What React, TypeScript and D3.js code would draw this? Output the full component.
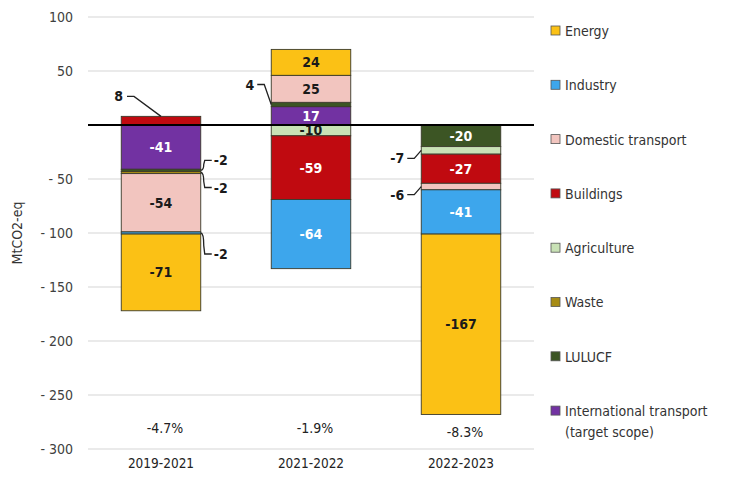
import React from "react"
import * as d3 from "d3"

// change in emissions by sector, MtCO2-eq
const categories = ["2019-2021", "2021-2022", "2022-2023"]
const totals = ["-4.7%", "-1.9%", "-8.3%"]

// stacking order (first = next to zero)
const sectors = ["International", "LULUCF", "Waste", "Agriculture", "Buildings", "Domestic", "Industry", "Energy"]
const international = [-41, 17, 0]
const lulucf = [-2, 4, -20]
const waste = [-2, 0, 0]
const agriculture = [0, -10, -7]
const buildings = [8, -59, -27]
const domestic = [-54, 25, -6]
const industry = [-2, -64, -41]
const energy = [-71, 24, -167]

const yTicks = [100, 50, 0, -50, -100, -150, -200, -250, -300]

const legendNames = ["Energy", "Industry", "Domestic transport", "Buildings", "Agriculture", "Waste", "LULUCF", "International transport|(target scope)"]
const legendKeys = ["Energy", "Industry", "Domestic", "Buildings", "Agriculture", "Waste", "LULUCF", "International"]

const colors: Record<string, string> = {
    Energy: "#FBC115",
    Industry: "#3DA6EC",
    Domestic: "#F2C5BF",
    Buildings: "#C00A10",
    Agriculture: "#C9E2B6",
    Waste: "#A68B14",
    LULUCF: "#3C5524",
    International: "#7232A2",
}
const whiteText = ["Industry", "Buildings", "LULUCF", "International"]

// small segments labelled outside the bar: [category index, sector, side, dy]
const callouts: [number, string, string, number][] = [
    [0, "Buildings", "top", -20],
    [0, "LULUCF", "right", -10],
    [0, "Waste", "right", 15],
    [0, "Industry", "right", 21],
    [1, "LULUCF", "left", -20],
    [2, "Agriculture", "left", 8],
    [2, "Domestic", "left", 8],
]

const font = "'DejaVu Sans Condensed', 'DejaVu Sans', sans-serif"

const App = () => {
    const width = 750, height = 478
    const series: Record<string, number[]> = {
        International: international, LULUCF: lulucf, Waste: waste, Agriculture: agriculture,
        Buildings: buildings, Domestic: domestic, Industry: industry, Energy: energy,
    }
    const rows = categories.map((c, i) => {
        const r: any = {cat: c}
        sectors.forEach(s => r[s] = series[s][i])
        return r
    })
    const stacked = d3.stack().keys(sectors).offset(d3.stackOffsetDiverging)(rows)

    const x = d3.scaleBand().domain(categories).range([86, 536]).paddingInner(0.47).paddingOuter(0.235)
    const y = d3.scaleLinear().domain([-300, 100]).range([449, 17])
    const bw = x.bandwidth()

    const fmtTick = (v: number) => v === 0 ? "" : v < 0 ? "- " + Math.abs(v) : String(v)

    const segs: any[] = []
    stacked.forEach(layer => {
        layer.forEach((d, i) => {
            const v = series[layer.key][i]
            if (v === 0) return
            segs.push({key: layer.key, i, v, y0: d[0], y1: d[1]})
        })
    })

    return (
        <svg width={width} height={height} style={{position: "absolute", left: 0, top: 0, background: "#fff"}} fontFamily={font}>
            {yTicks.map(t => (
                <g key={t}>
                    {t !== 0 && <line x1={88} x2={534} y1={y(t)} y2={y(t)} stroke="#d6d6d6" strokeWidth={1.2} />}
                    <text x={73} y={y(t)} dy="0.35em" textAnchor="end" fontSize={14} fill="#404040">{fmtTick(t)}</text>
                </g>
            ))}
            <text transform={`translate(22,${(y(100) + y(-300)) / 2}) rotate(-90)`} textAnchor="middle" fontSize={14} fill="#333">MtCO2-eq</text>

            {segs.map((s, k) => (
                <rect key={k} x={x(categories[s.i])} width={bw}
                    y={y(Math.max(s.y0, s.y1))} height={Math.abs(y(s.y0) - y(s.y1))}
                    fill={colors[s.key]} stroke="#3a3a2a" strokeWidth={0.9} />
            ))}

            {segs.filter(s => !callouts.some(c => c[0] === s.i && c[1] === s.key)).map((s, k) => (
                <text key={k} x={x(categories[s.i])! + bw / 2} y={y((s.y0 + s.y1) / 2)} dy="0.36em"
                    textAnchor="middle" fontSize={14} fontWeight="bold"
                    fill={whiteText.includes(s.key) ? "#fff" : "#1a1a1a"}>{s.v}</text>
            ))}

            {callouts.map(([i, key, side, dy], k) => {
                const s = segs.find(d => d.i === i && d.key === key)
                const x0 = x(categories[i])!, x1 = x0 + bw
                const mid = y((s.y0 + s.y1) / 2)
                let path = "", tx = 0, ty = 0, anchor = "start"
                if (side === "top") {
                    const cx = x0 + bw / 2, top = y(Math.max(s.y0, s.y1))
                    path = `M${cx},${top} L${cx - 27},${top + dy} L${cx - 34},${top + dy}`
                    tx = cx - 38; ty = top + dy; anchor = "end"
                } else if (side === "right") {
                    path = `M${x1},${mid} Q${x1 + 3},${mid} ${x1 + 3},${mid + dy * 0.6} L${x1 + 4},${mid + dy} L${x1 + 11},${mid + dy}`
                    tx = x1 + 13; ty = mid + dy
                } else {
                    path = `M${x0},${mid} L${x0 - 7},${mid + dy} L${x0 - 14},${mid + dy}`
                    tx = x0 - 17; ty = mid + dy; anchor = "end"
                }
                return (
                    <g key={k}>
                        <path d={path} fill="none" stroke="#222" strokeWidth={1.3} />
                        <text x={tx} y={ty} dy="0.36em" textAnchor={anchor} fontSize={14} fontWeight="bold" fill="#1a1a1a">{s.v}</text>
                    </g>
                )
            })}

            <line x1={88} x2={534} y1={y(0)} y2={y(0)} stroke="#000" strokeWidth={2.2} />

            {totals.map((t, i) => (
                <text key={t} x={x(categories[i])! + bw / 2 + 4} y={i === 2 ? 437 : 433} textAnchor="middle" fontSize={14} fill="#222">{t}</text>
            ))}
            {categories.map(c => (
                <text key={c} x={x(c)! + bw / 2} y={468} textAnchor="middle" fontSize={13.5} fill="#222">{c}</text>
            ))}

            {legendKeys.map((k, i) => {
                const ly = 31 + i * 54.3
                const lines = legendNames[i].split("|")
                return (
                    <g key={k}>
                        <rect x={551} y={ly - 5} width={9} height={9} fill={colors[k]} stroke="#555" strokeWidth={0.8} />
                        {lines.map((l, j) => (
                            <text key={j} x={565} y={ly + j * 21} dy="0.35em" fontSize={14} fill="#333">{l}</text>
                        ))}
                    </g>
                )
            })}
        </svg>
    )
}

export default App
